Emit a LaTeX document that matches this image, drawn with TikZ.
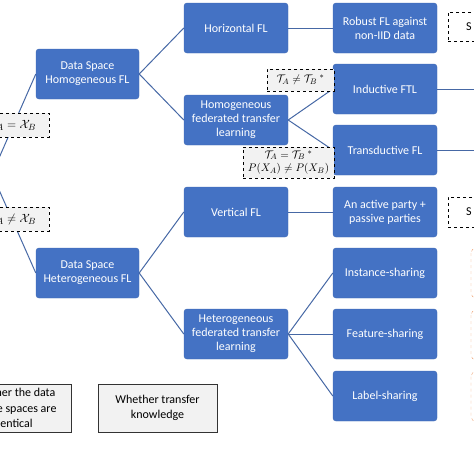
\documentclass[tikz,border=0pt]{standalone}
\usepackage{fontspec}
\setmainfont{Carlito}
\definecolor{flblue}{RGB}{68,114,196}
\definecolor{linkblue}{RGB}{70,104,165}
\definecolor{notegray}{RGB}{242,242,242}
\definecolor{hintorange}{RGB}{238,165,120}
\begin{document}
\begin{tikzpicture}[x=1pt,y=-1pt,
	fl node/.style={rectangle,rounded corners=3pt,fill=flblue,draw=flblue!92!black,text=white,minimum width=104pt,minimum height=50pt,align=center,inner sep=2pt,font=\fontsize{12}{14}\selectfont},
	cond node/.style={rectangle,draw=black,thick,dashed,fill=notegray,align=center,inner sep=2pt,font=\fontsize{11}{13}\selectfont},
	key node/.style={rectangle,draw=black!80,fill=notegray,minimum width=119pt,minimum height=48pt,align=center,font=\fontsize{12}{15.5}\selectfont},
	link/.style={draw=linkblue,line width=1pt}
]
	\useasboundingbox (0,0) rectangle (474,474);
	\clip (0,0) rectangle (474,474);

	\def \a {87.5};
	\def \b {236};
	\def \c {385};

	% off-page root and right-hand branches
	\coordinate (root) at (-8,174);
	\coordinate (outI) at (490,89);
	\coordinate (outT) at (490,150);

	% second level
	\node[fl node,minimum width=103pt] (dshom) at (\a,74) {Data Space\\Homogeneous FL};
	\node[fl node,minimum width=103pt] (dshet) at (\a,273) {Data Space\\Heterogeneous FL};

	% third level
	\node[fl node] (hfl) at (\b,28) {Horizontal FL};
	\node[fl node] (homftl) at (\b,120) {Homogeneous\\federated transfer\\learning};
	\node[fl node] (vfl) at (\b,212) {Vertical FL};
	\node[fl node] (hetftl) at (\b,334) {Heterogeneous\\federated transfer\\learning};

	% leaves
	\node[fl node] (robust) at (\c,28) {Robust FL against\\non-IID data};
	\node[fl node] (induct) at (\c,89) {Inductive FTL};
	\node[fl node] (transd) at (\c,150) {Transductive FL};
	\node[fl node] (active) at (\c,212) {An active party +\\passive parties};
	\node[fl node] (inst) at (\c,273) {Instance-sharing};
	\node[fl node] (feat) at (\c,334) {Feature-sharing};
	\node[fl node] (lbl) at (\c,396) {Label-sharing};

	% connectors
	\draw[link] (root) -- (dshom.west);
	\draw[link] (root) -- (dshet.west);
	\draw[link] (dshom.east) -- (hfl.west);
	\draw[link] (dshom.east) -- (homftl.west);
	\draw[link] (dshet.east) -- (vfl.west);
	\draw[link] (dshet.east) -- (hetftl.west);
	\draw[link] (hfl) -- (robust);
	\draw[link] (homftl.east) -- (induct.west);
	\draw[link] (homftl.east) -- (transd.west);
	\draw[link] (vfl) -- (active);
	\foreach \t in {inst,feat,lbl}
		\draw[link] (hetftl.east) -- (\t.west);
	\draw[link] (induct) -- (outI);
	\draw[link] (transd) -- (outT);

	% conditions on the branches
	\node[cond node,minimum width=74pt,minimum height=24pt,font=\fontsize{13}{15}\selectfont] (same) at (12,125) {$\mathcal{X}_A = \mathcal{X}_B$};
	\node[cond node,minimum width=74pt,minimum height=24pt,font=\fontsize{13}{15}\selectfont] (diff) at (12,219) {$\mathcal{X}_A \neq \mathcal{X}_B$};
	\node[cond node,minimum width=67pt,minimum height=22pt] (tdiff) at (300.5,80) {$\mathcal{T}_A \neq \mathcal{T}_B$ $^{*}$};
	\node[cond node,minimum width=91pt,minimum height=31pt,font=\fontsize{11}{13.5}\selectfont] (tsame) at (288.5,162.5) {$\mathcal{T}_A = \mathcal{T}_B$ $^{*}$\\$P(X_A) \neq P(X_B)$};

	% cut-off notes on the right
	\node[cond node,fill=white,minimum width=90pt,minimum height=29pt] (s1) at (493,26.5) {};
	\node[cond node,fill=white,minimum width=90pt,minimum height=30pt] (s2) at (493,212) {};
	\node[font=\fontsize{12}{14}\selectfont] at (469,26.5) {S};
	\node[font=\fontsize{12}{14}\selectfont] at (469,212) {S};
	\foreach \y in {273,335,396.5}
		\draw[draw=hintorange,dashed,rounded corners=5pt] (471,\y-25) rectangle (560,\y+25);

	% keys
	\node[key node,minimum width=118pt] (keydata) at (12,408) {Whether the data\\feature spaces are\\identical};
	\node[key node] (keytrans) at (157.5,408) {Whether transfer\\knowledge};
\end{tikzpicture}
\end{document}
